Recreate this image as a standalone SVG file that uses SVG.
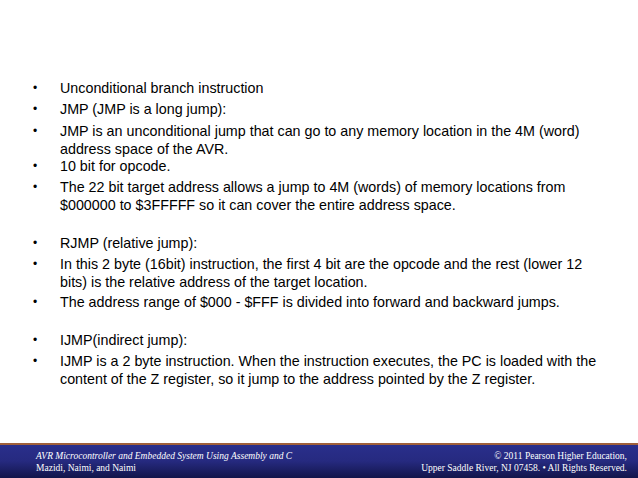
<svg xmlns="http://www.w3.org/2000/svg" width="638" height="478" viewBox="0 0 638 478">
<defs>
<linearGradient id="bar" x1="0" y1="0" x2="0" y2="1">
<stop offset="0" stop-color="#2a2f8c"/><stop offset="0.5" stop-color="#262a80"/><stop offset="1" stop-color="#12154a"/>
</linearGradient>
<style>
.t{font-family:"Liberation Sans",Arial,sans-serif;font-size:14.3px;fill:#000}
.b{font-family:"Liberation Sans",Arial,sans-serif;font-size:12px;fill:#000}
.f{font-family:"Liberation Serif","Times New Roman",serif;font-size:9.5px;fill:#fff}
</style>
</defs>
<rect width="638" height="478" fill="#fff"/>
<g id="bullets">
<text class="b" x="33" y="92">•</text>
<text class="b" x="33" y="113">•</text>
<text class="b" x="33" y="135">•</text>
<text class="b" x="33" y="170">•</text>
<text class="b" x="33" y="191">•</text>
<text class="b" x="33" y="247">•</text>
<text class="b" x="33" y="268">•</text>
<text class="b" x="33" y="306">•</text>
<text class="b" x="33" y="344">•</text>
<text class="b" x="33" y="365">•</text>
</g>
<g id="body">
<text class="t" x="60" y="93">Unconditional branch instruction</text>
<text class="t" x="60" y="114">JMP (JMP is a long jump):</text>
<text class="t" x="60" y="136">JMP is an unconditional jump that can go to any memory location in the 4M (word)</text>
<text class="t" x="60" y="154">address space of the AVR.</text>
<text class="t" x="60" y="171">10 bit for opcode.</text>
<text class="t" x="60" y="192">The 22 bit target address allows a jump to 4M (words) of memory locations from</text>
<text class="t" x="60" y="210">$000000 to $3FFFFF so it can cover the entire address space.</text>
<text class="t" x="60" y="248">RJMP (relative jump):</text>
<text class="t" x="60" y="269">In this 2 byte (16bit) instruction, the first 4 bit are the opcode and the rest (lower 12</text>
<text class="t" x="60" y="287">bits) is the relative address of the target location.</text>
<text class="t" x="60" y="307">The address range of $000 - $FFF is divided into forward and backward jumps.</text>
<text class="t" x="60" y="345">IJMP(indirect jump):</text>
<text class="t" x="60" y="366">IJMP is a 2 byte instruction. When the instruction executes, the PC is loaded with the</text>
<text class="t" x="60" y="384">content of the Z register, so it jump to the address pointed by the Z register.</text>
</g>
<g id="footer">
<rect x="0" y="444" width="638" height="34" fill="url(#bar)"/>
<rect x="0" y="443" width="638" height="2" fill="#a0603a"/>
<text class="f" x="36" y="459" font-style="italic">AVR Microcontroller and Embedded System Using Assembly and C</text>
<text class="f" x="36" y="471">Mazidi, Naimi, and Naimi</text>
<text class="f" x="627" y="459" text-anchor="end">© 2011   Pearson Higher Education,</text>
<text class="f" x="627" y="471" text-anchor="end">Upper Saddle River, NJ 07458. • All Rights Reserved.</text>
</g>
</svg>
